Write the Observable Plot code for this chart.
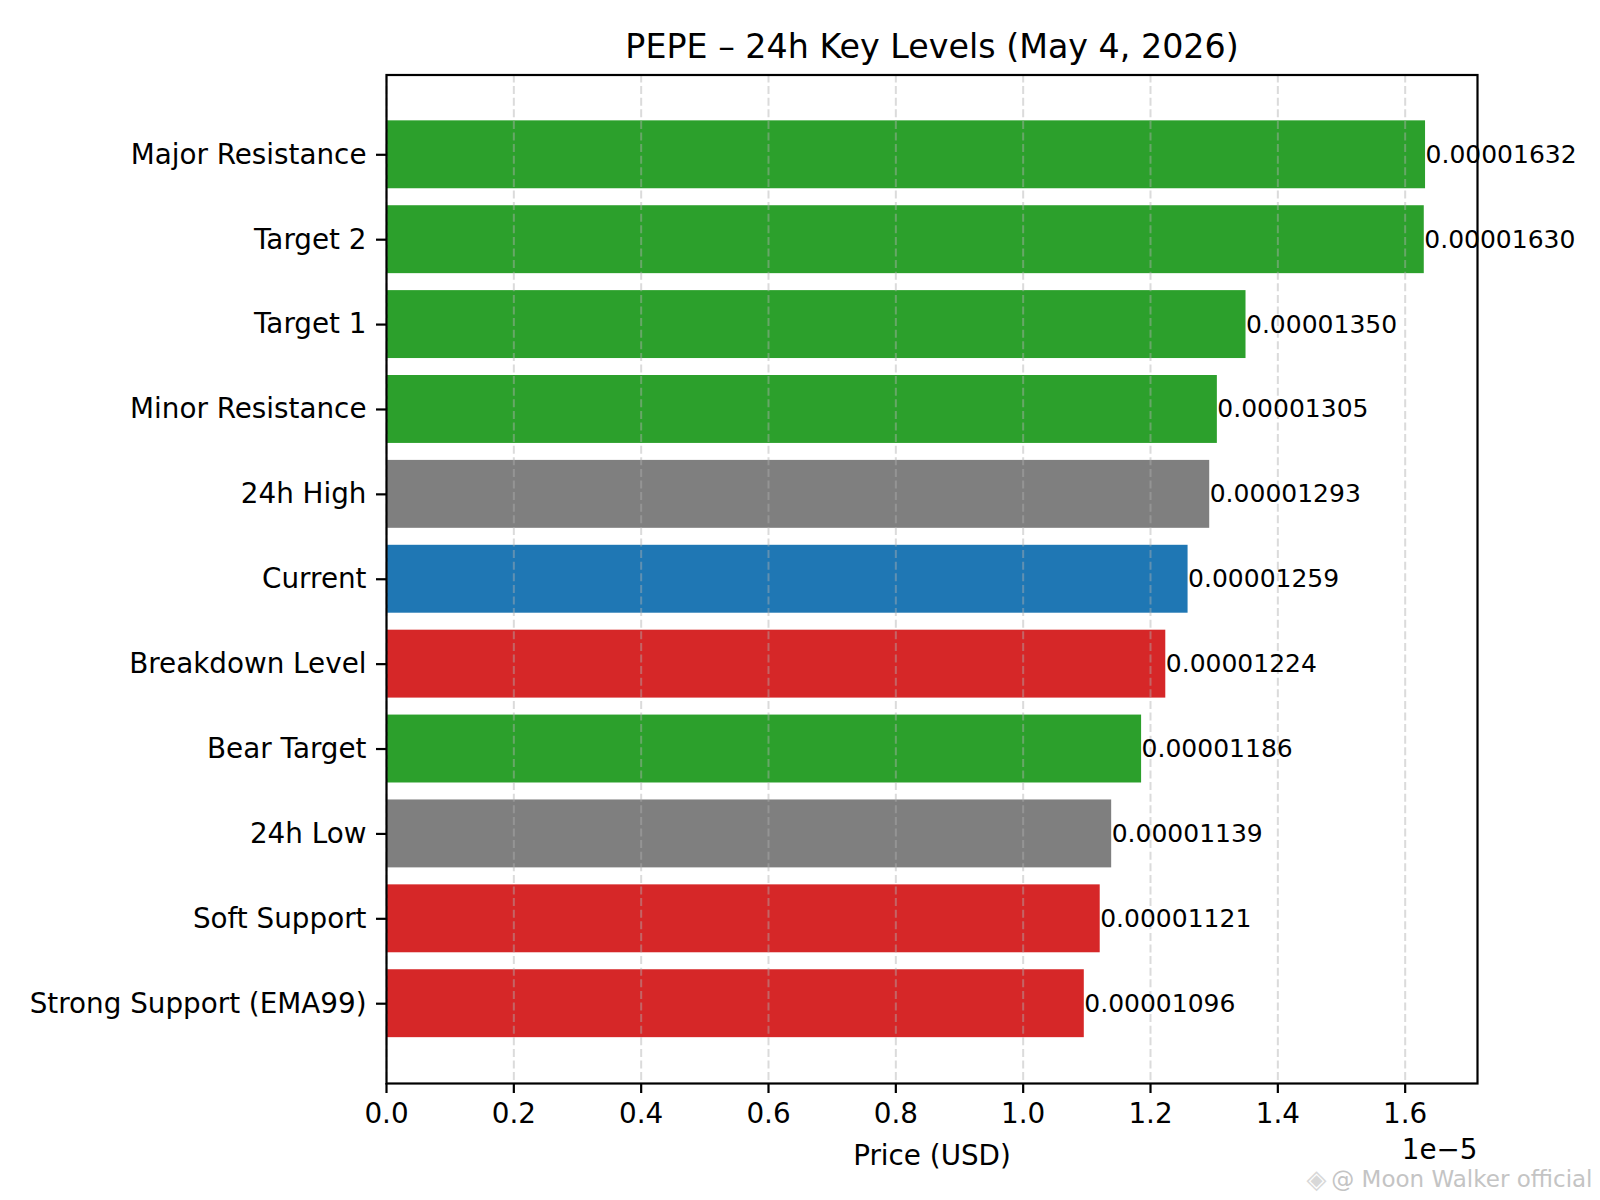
<!DOCTYPE html>
<html>
<head>
<meta charset="utf-8">
<script src="https://cdn.jsdelivr.net/npm/d3@7"></script>
<script src="https://cdn.jsdelivr.net/npm/@observablehq/plot@0.6"></script>
<style>
  body { margin: 0; background: white; }
  #chart { width: 1600px; height: 1200px; }
</style>
</head>
<body>
<div id="chart"></div>
<script>
// niveles de arriba hacia abajo
const levels = [
  "Major Resistance", "Target 2", "Target 1", "Minor Resistance", "24h High",
  "Current", "Breakdown Level", "Bear Target", "24h Low", "Soft Support",
  "Strong Support (EMA99)"
];
const prices = [
  0.00001632, 0.00001630, 0.00001350, 0.00001305, 0.00001293,
  0.00001259, 0.00001224, 0.00001186, 0.00001139, 0.00001121, 0.00001096
];
const barColors = [
  "#2ca02c", "#2ca02c", "#2ca02c", "#2ca02c", "#7f7f7f",
  "#1f77b4", "#d62728", "#2ca02c", "#7f7f7f", "#d62728", "#d62728"
];
const xTickLabels = [0, 0.2, 0.4, 0.6, 0.8, 1.0, 1.2, 1.4, 1.6]; // x 1e-5

const title = "PEPE – 24h Key Levels (May 4, 2026)";
const xLabel = "Price (USD)";
const offsetText = "1e−5";
const watermark = "@ Moon Walker official";

const data = levels.map((level, i) => ({level, price: prices[i], color: barColors[i]}));

const chart = Plot.plot({
  width: 1600,
  height: 1200,
  marginLeft: 386,
  marginRight: 123,
  marginTop: 74.5,
  marginBottom: 117,
  style: {fontFamily: "DejaVu Sans", color: "black", background: "white"},
  x: {domain: [0, d3.max(prices) * 1.05]},
  y: {domain: levels, paddingInner: 0.2, paddingOuter: 0.54, round: false},
  color: {type: "identity"},
  marks: [
    Plot.barX(data, {x: "price", y: "level", fill: "color"}),
    Plot.gridX(xTickLabels.map(t => t * 1e-5), {
      stroke: "#b0b0b0", strokeOpacity: 0.45, strokeWidth: 2, strokeDasharray: "8,3.6"
    }),
    Plot.text(data, {
      x: "price", y: "level", text: d => d.price.toFixed(8),
      textAnchor: "start", fontSize: 25, fill: "black"
    }),
    Plot.axisY({tickSize: 10, tickPadding: 10, fontSize: 27.8, strokeWidth: 2.2, label: null}),
    Plot.axisX({
      ticks: xTickLabels.map(t => t * 1e-5),
      tickFormat: d => (d * 1e5).toFixed(1),
      tickSize: 10, tickPadding: 10, fontSize: 27.8, strokeWidth: 2.2, label: null
    }),
    Plot.frame({stroke: "black", strokeWidth: 2.2}),
    Plot.text([title], {frameAnchor: "top", lineAnchor: "middle", dy: -28, fontSize: 33.3, fill: "black"}),
    Plot.text([xLabel], {frameAnchor: "bottom", lineAnchor: "middle", dy: 73, fontSize: 27.8, fill: "black"}),
    Plot.text([offsetText], {frameAnchor: "bottom-right", lineAnchor: "middle", textAnchor: "end", dy: 67, fontSize: 27.8, fill: "black"}),
    Plot.text(["◈"], {frameAnchor: "bottom-right", lineAnchor: "middle", textAnchor: "end", dx: -151, dy: 96, fontSize: 26, fill: "#d8d8d8"}),
    Plot.text([watermark], {frameAnchor: "bottom-right", lineAnchor: "middle", textAnchor: "end", dx: 115, dy: 96, fontSize: 23, fill: "#c4c4c4"})
  ]
});

d3.select("#chart").append(() => chart);
</script>
</body>
</html>
